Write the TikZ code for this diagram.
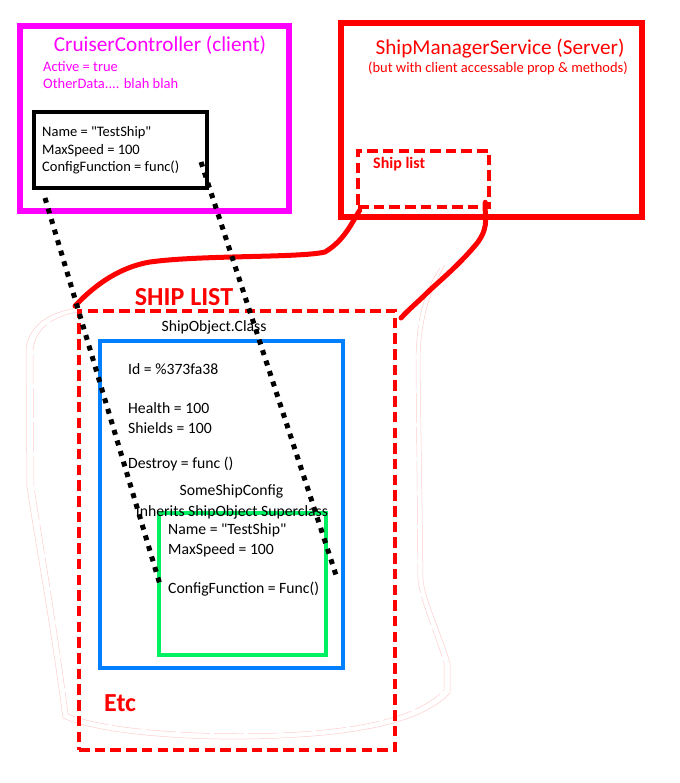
\documentclass[tikz,border=0pt]{standalone}
\usepackage{fontspec}
\setmainfont{Carlito}
\usetikzlibrary{calc}
\definecolor{magc}{RGB}{255,0,255}
\definecolor{redc}{RGB}{255,0,0}
\definecolor{bluec}{RGB}{0,128,255}
\definecolor{greenc}{RGB}{0,240,100}
\definecolor{ghostc}{RGB}{255,205,205}
\newcommand{\dq}{\XeTeXglyph\XeTeXcharglyph"0022\relax}
\begin{document}
\begin{tikzpicture}[x=1pt,y=-1pt,
  boxstyle/.style={draw,inner sep=0pt,anchor=center},
  redcurve/.style={draw=redc,line width=5pt,line cap=round,line join=round},
  dotline/.style={draw=black,line width=5pt,dash pattern=on 5pt off 6pt},
  ghost/.style={draw=ghostc,line width=0.5pt},
  txt/.style={inner sep=0pt,font=\fontsize{14.5}{17}\selectfont},
  itxt/.style={inner sep=0pt,font=\fontsize{15.7}{18}\selectfont},
  lbl/.style={txt,anchor=mid west,yshift=-2pt},
  ilbl/.style={itxt,anchor=mid west,yshift=-2pt}]
\useasboundingbox (0,0) rectangle (679,783);

% faint ghost outlines
\draw[ghost] (77,308) .. controls (50,312) and (28,325) .. (26,350) -- (27,487)
  .. controls (35,540) and (50,620) .. (63,718) .. controls (100,735) and (200,742) .. (280,738)
  .. controls (350,735) and (420,725) .. (450,693) -- (450,663)
  .. controls (440,630) and (425,600) .. (423,580) -- (420,363)
  .. controls (420,320) and (430,290) .. (445,265);
\draw[ghost,dash pattern=on 30pt off 4pt] (78,312) .. controls (54,316) and (34,328) .. (33,352) -- (34,487)
  .. controls (42,540) and (56,620) .. (68,714) .. controls (104,730) and (200,736) .. (280,733)
  .. controls (350,730) and (415,720) .. (444,690) -- (444,663)
  .. controls (434,630) and (420,600) .. (418,580) -- (416,363)
  .. controls (416,320) and (424,292) .. (440,268);

% boxes
\node[boxstyle,draw=magc,line width=6pt,minimum width=269pt,minimum height=185pt] (client) at (154.5,118.5) {};
\node[boxstyle,draw=black,line width=4pt,minimum width=173pt,minimum height=76pt] (cfg) at (120.5,150) {};
\node[boxstyle,draw=redc,line width=5.5pt,minimum width=301pt,minimum height=194pt] (server) at (491.5,120) {};
\node[boxstyle,draw=redc,line width=4.5pt,dash pattern=on 10.5pt off 5.2pt,minimum width=131pt,minimum height=56pt] (shiplist) at (423.5,179) {};
\node[boxstyle,draw=redc,line width=4pt,dash pattern=on 10.5pt off 5.2pt,minimum width=316pt,minimum height=439pt] (biglist) at (237,530.5) {};
\node[boxstyle,draw=bluec,line width=4pt,minimum width=243pt,minimum height=327pt] (shipobj) at (221.5,504.5) {};
\node[boxstyle,draw=greenc,line width=4pt,minimum width=167pt,minimum height=142pt] (somecfg) at (242.5,584) {};

% texts
\node[txt,text=magc,font=\fontsize{21.2}{25}\selectfont] (ctitle) at (160,45) {CruiserController (client)};
\node[lbl,text=magc] (cactive) at (43,67) {Active = true};
\node[lbl,text=magc] (cother) at (43,84) {OtherData.... blah blah};
\node[lbl] (cname) at (42,132) {Name = \dq TestShip\dq};
\node[lbl] (cspeed) at (42,150) {MaxSpeed = 100};
\node[lbl] (cfunc) at (42,167) {ConfigFunction = func()};

\node[txt,text=redc,font=\fontsize{21.2}{25}\selectfont] (stitle) at (500,49) {ShipManagerService (Server)};
\node[txt,text=redc] (ssub) at (498,68) {(but with client accessable prop \& methods)};
\node[lbl,text=redc,font=\bfseries\fontsize{16}{19}\selectfont] (slt) at (373,164) {Ship list};

\node[txt,text=redc,font=\bfseries\fontsize{26}{30}\selectfont] (bigt) at (184,297) {SHIP LIST};
\node[itxt] (objt) at (214,327) {ShipObject.Class};
\node[ilbl] (oid) at (128,370) {Id = \%373fa38};
\node[ilbl] (ohealth) at (128,409) {Health = 100};
\node[ilbl] (oshield) at (128,429) {Shields = 100};
\node[ilbl] (odestroy) at (128,464) {Destroy = func ()};
\node[itxt] (sct) at (231.5,491) {SomeShipConfig};
\node[itxt] (sci) at (232,512) {Inherits ShipObject Superclass};
\node[ilbl] (gname) at (168,530) {Name = \dq TestShip\dq};
\node[ilbl] (gspeed) at (168,550) {MaxSpeed = 100};
\node[ilbl] (gfunc) at (168,589) {ConfigFunction = Func()};
\node[lbl,text=redc,font=\bfseries\fontsize{26}{30}\selectfont] (etc) at (104,707) {Etc};

% connector end points
\coordinate (dL1) at ($(cfg.south west)+(13,8)$);
\coordinate (dL2) at ($(somecfg.west)+(4,4)$);
\coordinate (dR1) at ($(cfg.south east)+(-8,-28)$);
\coordinate (dR2) at ($(somecfg.east)+(8,-9)$);
\coordinate (slA) at ($(shiplist.south west)+(4,1)$);
\coordinate (slB) at ($(shiplist.south east)+(-6,-7)$);
\coordinate (shA) at ($(biglist.north west)+(-2,-3)$);
\coordinate (shB) at ($(biglist.north east)+(4,9)$);

% red hand-drawn connectors
\draw[redcurve] (slA) .. controls (352,222) and (345,240) .. (325,252)
  .. controls (300,258) and (200,255) .. (150,262)
  .. controls (115,268) and (90,290) .. (shA);
\draw[redcurve] (slB) .. controls (484,215) and (490,225) .. (478,242)
  .. controls (462,262) and (442,279) .. (430,290)
  .. controls (418,302) and (408,310) .. (shB);

% dotted connectors
\draw[dotline] (dL1) -- (dL2);
\draw[dotline] (dR1) -- (dR2);
\end{tikzpicture}
\end{document}
